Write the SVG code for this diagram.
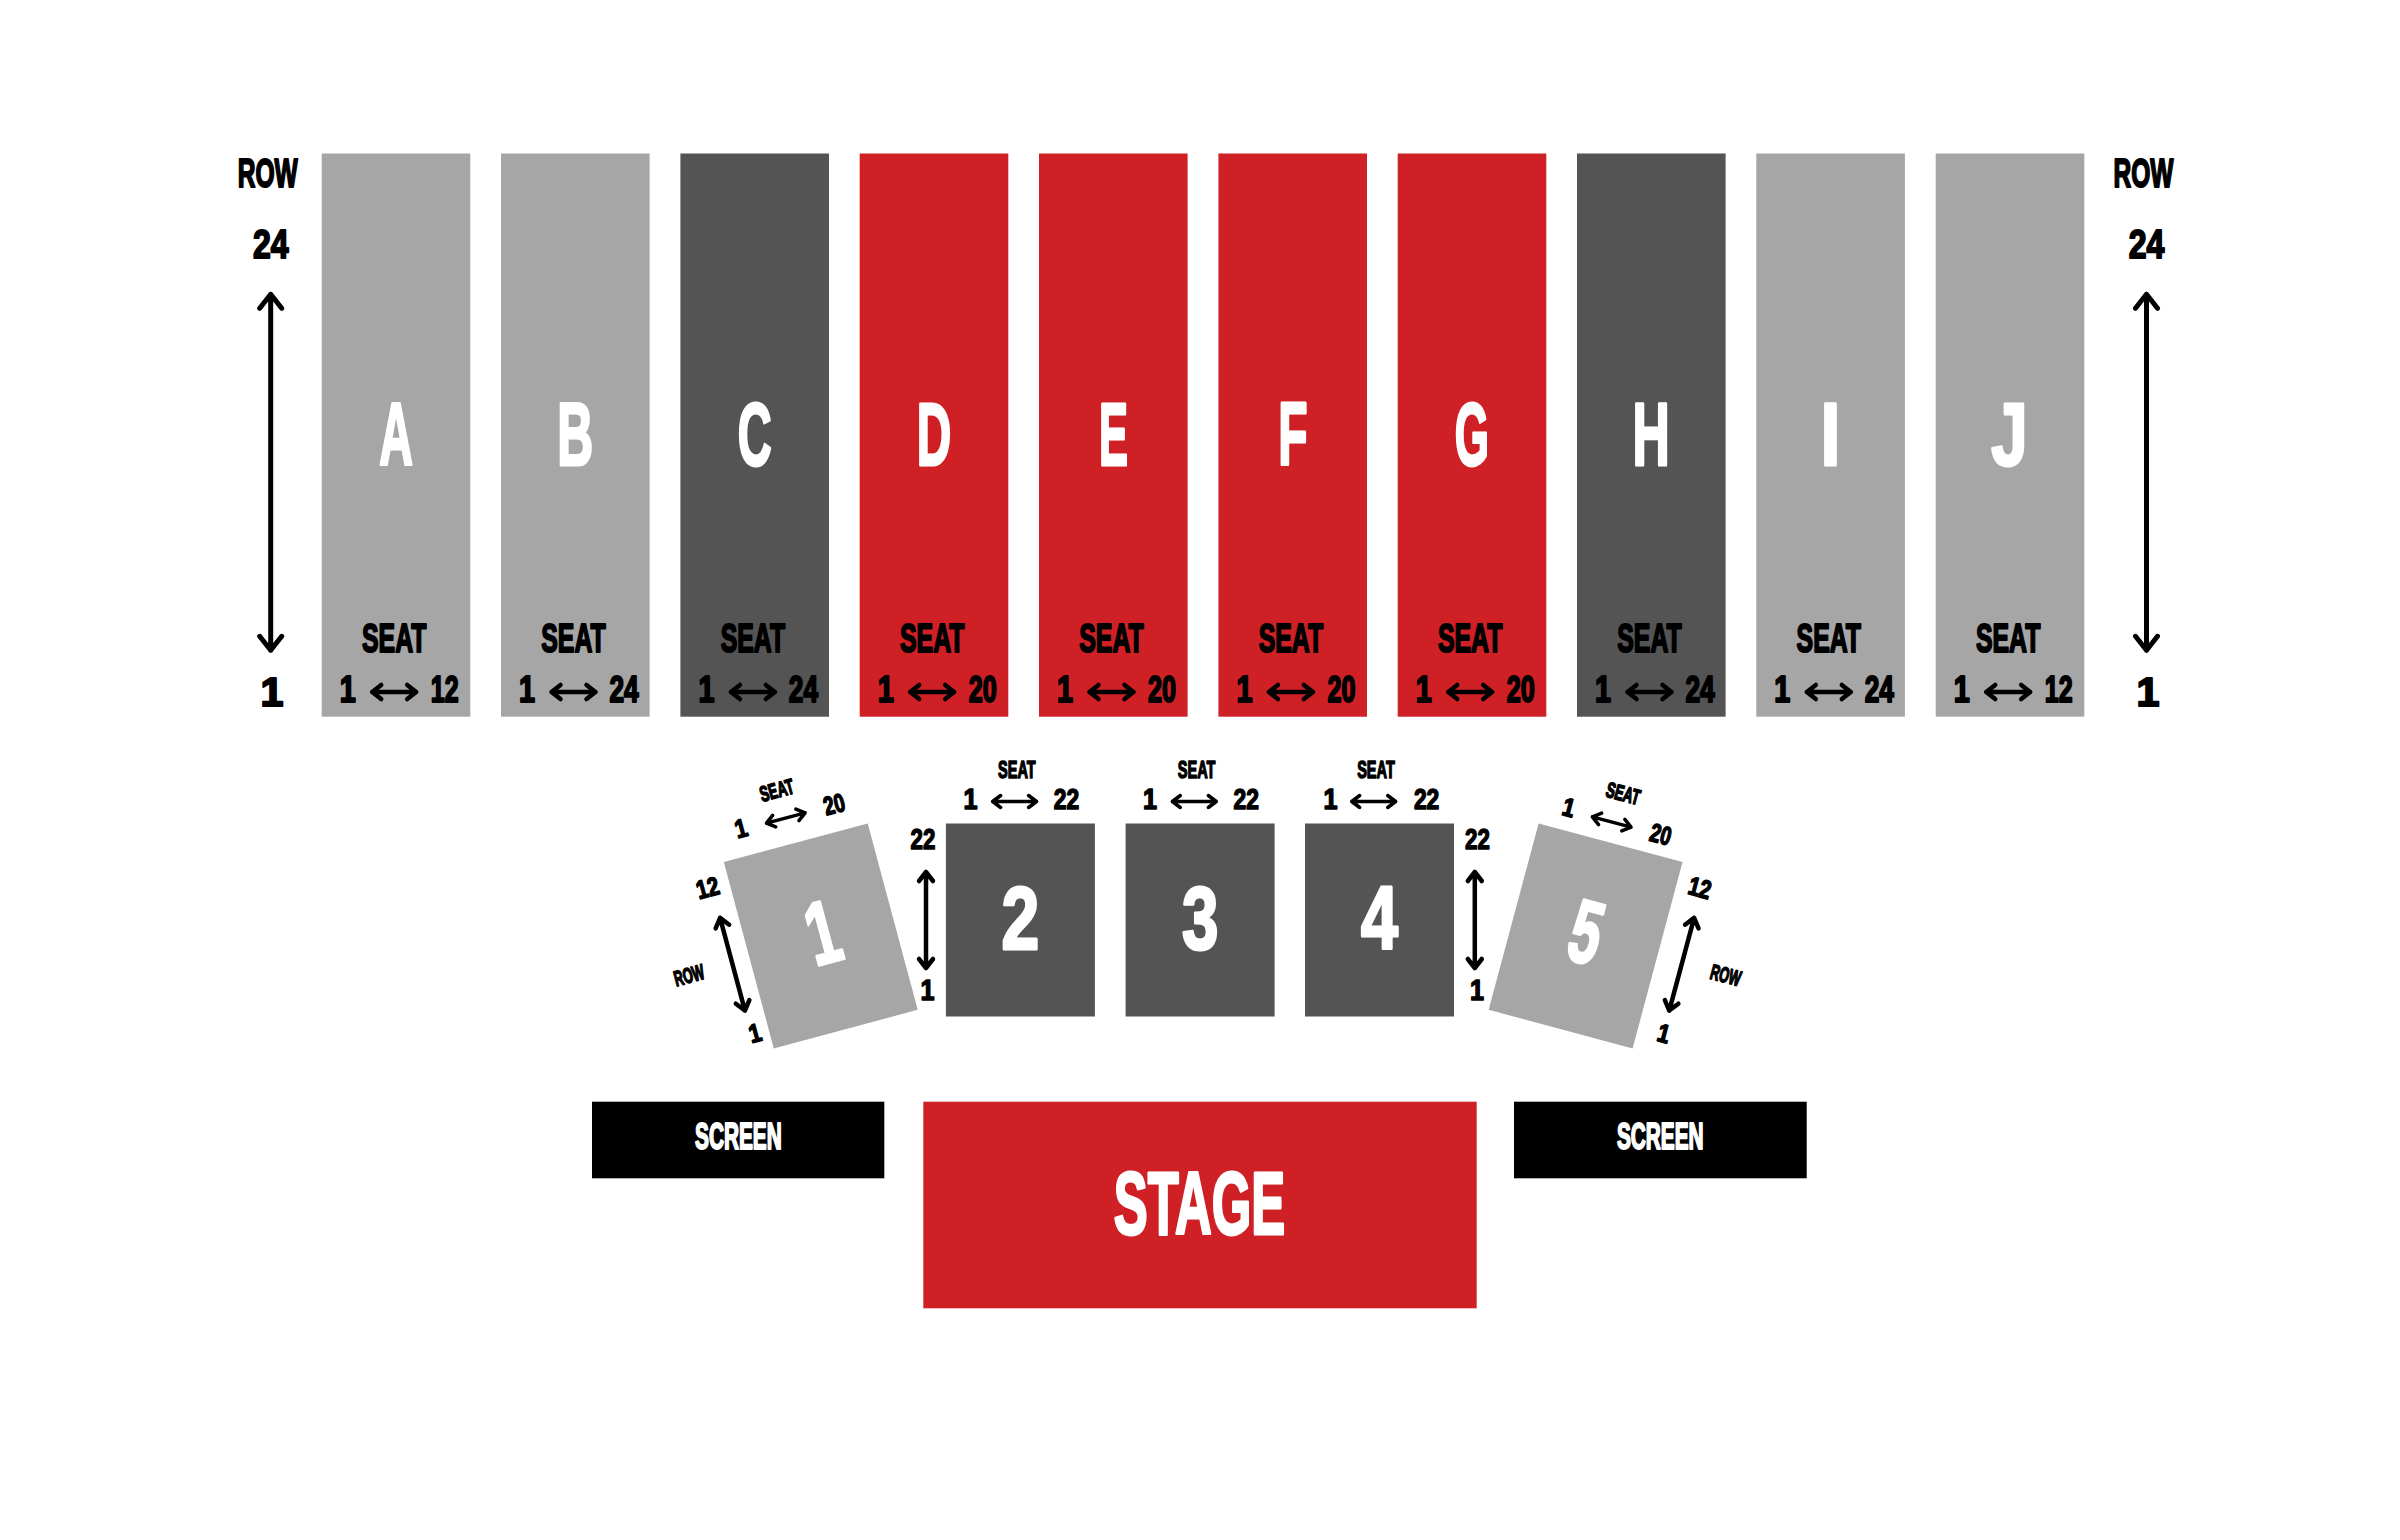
<svg xmlns="http://www.w3.org/2000/svg" xmlns:xlink="http://www.w3.org/1999/xlink" width="2400" height="1540" viewBox="0 0 2400 1540">
<style>
.bg{fill:#ffffff}
.lt{fill:#a6a6a6}
.dk{fill:#545454}
.rd{fill:#cf2026}
.bk{fill:#000000}
.t{font-family:"Liberation Sans",Arial,Helvetica,sans-serif;font-weight:700;text-anchor:middle;fill:#000;stroke:#000;stroke-width:2;stroke-linejoin:round}
.w{fill:#fff;stroke:#fff}
.s3{stroke-width:3}
.s1{stroke-width:1.5}
.big{font-size:89px}
.lab{font-size:41.3px}
.seat{font-size:40.5px}
.num{font-size:36.3px}
.sseat{font-size:24.4px}
.snum{font-size:28.6px}
.side{font-size:30px}
.rsm{font-size:21.6px}
.rnum{font-size:25.8px}
.scr{font-size:36.3px}
.arr{fill:none;stroke:#000;stroke-linecap:round;stroke-linejoin:round}
.a5{stroke-width:5}
.a4{stroke-width:4.5}
.a35{stroke-width:3.5}
</style>
<defs>
<path id="vBig" d="M0,-178 V178 M-11,-164 L0,-178 L11,-164 M-11,164 L0,178 L11,164"/>
<path id="hTop" d="M-22,0 H22 M-13,-7 L-22,0 L-13,7 M13,-7 L22,0 L13,7"/>
<path id="hSm" d="M-22,0 H22 M-14,-6 L-22,0 L-14,6 M14,-6 L22,0 L14,6"/>
<path id="hRot" d="M-20,0 H20 M-12,-6 L-20,0 L-12,6 M12,-6 L20,0 L12,6"/>
<path id="vSm" d="M0,-48 V48 M-7,-39 L0,-48 L7,-39 M-7,39 L0,48 L7,39"/>
</defs>
<rect class="bg" x="0" y="0" width="2400" height="1540"/>

<g id="row-scale-left">
<text class="t lab" x="267.8" y="187" textLength="60" lengthAdjust="spacingAndGlyphs">ROW</text>
<text class="t lab" x="270.8" y="258" textLength="35.6" lengthAdjust="spacingAndGlyphs">24</text>
<text class="t lab" x="272" y="705.5" font-size="39">1</text>
</g>
<g id="row-scale-right">
<text class="t lab" x="2143.5" y="187" textLength="60" lengthAdjust="spacingAndGlyphs">ROW</text>
<text class="t lab" x="2146.5" y="258" textLength="35.6" lengthAdjust="spacingAndGlyphs">24</text>
<text class="t lab" x="2148" y="705.5" font-size="39">1</text>
</g>

<g id="section-A">
<rect class="lt" x="321.7" y="153.5" width="148.6" height="563.2"/>
<text class="t w s3 big" x="396" y="464.5" textLength="33.7" lengthAdjust="spacingAndGlyphs">A</text>
<text class="t seat" x="394.2" y="652" textLength="64.5" lengthAdjust="spacingAndGlyphs">SEAT</text>
<text class="t num" x="347.7" y="702.3" textLength="16" lengthAdjust="spacingAndGlyphs">1</text>
<text class="t num" x="444.7" y="702.3" textLength="27.8" lengthAdjust="spacingAndGlyphs">12</text>
</g>
<g id="section-B">
<rect class="lt" x="501" y="153.5" width="148.6" height="563.2"/>
<text class="t w s3 big" x="575.3" y="464.5" textLength="36" lengthAdjust="spacingAndGlyphs">B</text>
<text class="t seat" x="573.5" y="652" textLength="64.5" lengthAdjust="spacingAndGlyphs">SEAT</text>
<text class="t num" x="527" y="702.3" textLength="16" lengthAdjust="spacingAndGlyphs">1</text>
<text class="t num" x="624" y="702.3" textLength="29.2" lengthAdjust="spacingAndGlyphs">24</text>
</g>
<g id="section-C">
<rect class="dk" x="680.4" y="153.5" width="148.6" height="563.2"/>
<text class="t w s3 big" x="754.7" y="464.5" textLength="33.9" lengthAdjust="spacingAndGlyphs">C</text>
<text class="t seat" x="752.9" y="652" textLength="64.5" lengthAdjust="spacingAndGlyphs">SEAT</text>
<text class="t num" x="706.4" y="702.3" textLength="16" lengthAdjust="spacingAndGlyphs">1</text>
<text class="t num" x="803.4" y="702.3" textLength="29.2" lengthAdjust="spacingAndGlyphs">24</text>
</g>
<g id="section-D">
<rect class="rd" x="859.7" y="153.5" width="148.6" height="563.2"/>
<text class="t w s3 big" x="934" y="464.5" textLength="34.5" lengthAdjust="spacingAndGlyphs">D</text>
<text class="t seat" x="932.2" y="652" textLength="64.5" lengthAdjust="spacingAndGlyphs">SEAT</text>
<text class="t num" x="885.7" y="702.3" textLength="16" lengthAdjust="spacingAndGlyphs">1</text>
<text class="t num" x="982.7" y="702.3" textLength="28" lengthAdjust="spacingAndGlyphs">20</text>
</g>
<g id="section-E">
<rect class="rd" x="1039" y="153.5" width="148.6" height="563.2"/>
<text class="t w s3 big" x="1113.5" y="464.5" textLength="29" lengthAdjust="spacingAndGlyphs">E</text>
<text class="t seat" x="1111.5" y="652" textLength="64.5" lengthAdjust="spacingAndGlyphs">SEAT</text>
<text class="t num" x="1065" y="702.3" textLength="16" lengthAdjust="spacingAndGlyphs">1</text>
<text class="t num" x="1162" y="702.3" textLength="28" lengthAdjust="spacingAndGlyphs">20</text>
</g>
<g id="section-F">
<rect class="rd" x="1218.4" y="153.5" width="148.6" height="563.2"/>
<text class="t w s3 big" x="1293" y="464.5" textLength="29.3" lengthAdjust="spacingAndGlyphs">F</text>
<text class="t seat" x="1290.9" y="652" textLength="64.5" lengthAdjust="spacingAndGlyphs">SEAT</text>
<text class="t num" x="1244.4" y="702.3" textLength="16" lengthAdjust="spacingAndGlyphs">1</text>
<text class="t num" x="1341.4" y="702.3" textLength="28" lengthAdjust="spacingAndGlyphs">20</text>
</g>
<g id="section-G">
<rect class="rd" x="1397.7" y="153.5" width="148.6" height="563.2"/>
<text class="t w s3 big" x="1471.8" y="464.5" textLength="34.2" lengthAdjust="spacingAndGlyphs">G</text>
<text class="t seat" x="1470.2" y="652" textLength="64.5" lengthAdjust="spacingAndGlyphs">SEAT</text>
<text class="t num" x="1423.7" y="702.3" textLength="16" lengthAdjust="spacingAndGlyphs">1</text>
<text class="t num" x="1520.7" y="702.3" textLength="28" lengthAdjust="spacingAndGlyphs">20</text>
</g>
<g id="section-H">
<rect class="dk" x="1577" y="153.5" width="148.6" height="563.2"/>
<text class="t w s3 big" x="1651.2" y="464.5" textLength="37.2" lengthAdjust="spacingAndGlyphs">H</text>
<text class="t seat" x="1649.5" y="652" textLength="64.5" lengthAdjust="spacingAndGlyphs">SEAT</text>
<text class="t num" x="1603" y="702.3" textLength="16" lengthAdjust="spacingAndGlyphs">1</text>
<text class="t num" x="1700" y="702.3" textLength="29.2" lengthAdjust="spacingAndGlyphs">24</text>
</g>
<g id="section-I">
<rect class="lt" x="1756.3" y="153.5" width="148.6" height="563.2"/>
<text class="t w s3 big" x="1830.5" y="464.5" textLength="19.9" lengthAdjust="spacingAndGlyphs">I</text>
<text class="t seat" x="1828.8" y="652" textLength="64.5" lengthAdjust="spacingAndGlyphs">SEAT</text>
<text class="t num" x="1782.3" y="702.3" textLength="16" lengthAdjust="spacingAndGlyphs">1</text>
<text class="t num" x="1879.3" y="702.3" textLength="29.2" lengthAdjust="spacingAndGlyphs">24</text>
</g>
<g id="section-J">
<rect class="lt" x="1935.7" y="153.5" width="148.6" height="563.2"/>
<text class="t w s3 big" x="2009.5" y="464.5" textLength="36.3" lengthAdjust="spacingAndGlyphs">J</text>
<text class="t seat" x="2008.2" y="652" textLength="64.5" lengthAdjust="spacingAndGlyphs">SEAT</text>
<text class="t num" x="1961.7" y="702.3" textLength="16" lengthAdjust="spacingAndGlyphs">1</text>
<text class="t num" x="2058.7" y="702.3" textLength="27.8" lengthAdjust="spacingAndGlyphs">12</text>
</g>

<g id="block-1">
<rect class="lt" x="-74.5" y="-96.5" width="149" height="193" transform="translate(820.75,935.9) rotate(-15)"/>
<text class="t w s3 big" x="1.5" y="31.9" textLength="32" lengthAdjust="spacingAndGlyphs" transform="translate(821,931.7) rotate(-15)">1</text>
<text class="t s1 rsm" x="0" y="7.7" textLength="34.5" lengthAdjust="spacingAndGlyphs" transform="translate(776.7,790) rotate(-15)">SEAT</text>
<text class="t s1 rnum" x="1" y="9.2" textLength="12" lengthAdjust="spacingAndGlyphs" transform="translate(740,828.3) rotate(-15)">1</text>
<text class="t s1 rnum" x="0" y="9.2" textLength="21" lengthAdjust="spacingAndGlyphs" transform="translate(834,804) rotate(-15)">20</text>
<text class="t s1 rnum" x="0" y="9.2" textLength="22.6" lengthAdjust="spacingAndGlyphs" transform="translate(707.5,887.5) rotate(-15)">12</text>
<text class="t s1 rsm" x="0" y="7.7" textLength="30.7" lengthAdjust="spacingAndGlyphs" transform="translate(689,975) rotate(-15)">ROW</text>
<text class="t s1 rnum" x="1" y="9.2" textLength="12" lengthAdjust="spacingAndGlyphs" transform="translate(754,1033) rotate(-15)">1</text>
</g>
<g id="block-2">
<rect class="dk" x="945.9" y="823.5" width="149" height="193"/>
<text class="t w s3 big" x="1020.4" y="949.2" textLength="37.7" lengthAdjust="spacingAndGlyphs">2</text>
<text class="t s1 sseat" x="1016.9" y="777.5" textLength="37.6" lengthAdjust="spacingAndGlyphs">SEAT</text>
<text class="t s1 snum" x="970.4" y="809.2" textLength="14" lengthAdjust="spacingAndGlyphs">1</text>
<text class="t s1 snum" x="1066.5" y="809.2" textLength="25.4" lengthAdjust="spacingAndGlyphs">22</text>
<text class="t s1 side" x="923" y="849.2" textLength="24.8" lengthAdjust="spacingAndGlyphs">22</text>
<text class="t s1 side" x="927.5" y="1000" textLength="14" lengthAdjust="spacingAndGlyphs">1</text>
</g>
<g id="block-3">
<rect class="dk" x="1125.6" y="823.5" width="149" height="193"/>
<text class="t w s3 big" x="1200.1" y="949.2" textLength="36.4" lengthAdjust="spacingAndGlyphs">3</text>
<text class="t s1 sseat" x="1196.6" y="777.5" textLength="37.6" lengthAdjust="spacingAndGlyphs">SEAT</text>
<text class="t s1 snum" x="1150.1" y="809.2" textLength="14" lengthAdjust="spacingAndGlyphs">1</text>
<text class="t s1 snum" x="1246.2" y="809.2" textLength="25.4" lengthAdjust="spacingAndGlyphs">22</text>
</g>
<g id="block-4">
<rect class="dk" x="1305" y="823.5" width="149" height="193"/>
<text class="t w s3 big" x="1379.5" y="949.2" textLength="37" lengthAdjust="spacingAndGlyphs">4</text>
<text class="t s1 sseat" x="1376" y="777.5" textLength="37.6" lengthAdjust="spacingAndGlyphs">SEAT</text>
<text class="t s1 snum" x="1330.5" y="809.2" textLength="14" lengthAdjust="spacingAndGlyphs">1</text>
<text class="t s1 snum" x="1426.6" y="809.2" textLength="25.4" lengthAdjust="spacingAndGlyphs">22</text>
<text class="t s1 side" x="1477.5" y="849.2" textLength="24.8" lengthAdjust="spacingAndGlyphs">22</text>
<text class="t s1 side" x="1477" y="1000" textLength="14" lengthAdjust="spacingAndGlyphs">1</text>
</g>
<g id="block-5">
<rect class="lt" x="-74.5" y="-96.5" width="149" height="193" transform="translate(1585.6,935.9) rotate(15)"/>
<text class="t w s3 big" x="0" y="31.9" textLength="30.6" lengthAdjust="spacingAndGlyphs" transform="translate(1586.7,930.8) rotate(15)">5</text>
<text class="t s1 rsm" x="0" y="7.7" textLength="34.5" lengthAdjust="spacingAndGlyphs" transform="translate(1623.3,793.3) rotate(15)">SEAT</text>
<text class="t s1 rnum" x="1" y="9.2" textLength="12" lengthAdjust="spacingAndGlyphs" transform="translate(1568,807) rotate(15)">1</text>
<text class="t s1 rnum" x="0" y="9.2" textLength="21" lengthAdjust="spacingAndGlyphs" transform="translate(1660.8,834) rotate(15)">20</text>
<text class="t s1 rnum" x="0" y="9.2" textLength="22.6" lengthAdjust="spacingAndGlyphs" transform="translate(1700,887.5) rotate(15)">12</text>
<text class="t s1 rsm" x="0" y="7.7" textLength="30.7" lengthAdjust="spacingAndGlyphs" transform="translate(1725.8,975) rotate(15)">ROW</text>
<text class="t s1 rnum" x="1" y="9.2" textLength="12" lengthAdjust="spacingAndGlyphs" transform="translate(1663,1033) rotate(15)">1</text>
</g>

<g id="screen-left">
<rect class="bk" x="592" y="1101.7" width="292.3" height="76.6"/>
<text class="t w scr" x="738.4" y="1149" textLength="86.7" lengthAdjust="spacingAndGlyphs">SCREEN</text>
</g>
<g id="screen-right">
<rect class="bk" x="1514" y="1101.7" width="292.7" height="76.6"/>
<text class="t w scr" x="1660.3" y="1149" textLength="86.7" lengthAdjust="spacingAndGlyphs">SCREEN</text>
</g>
<g id="stage">
<rect class="rd" x="923.3" y="1101.7" width="553.4" height="206.6"/>
<text class="t w s3 big" x="1199.5" y="1233.5" textLength="171.4" lengthAdjust="spacingAndGlyphs">STAGE</text>
</g>

<g id="connectors" class="arr">
<use xlink:href="#vBig" class="a5" x="270.7" y="472.3"/>
<use xlink:href="#vBig" class="a5" x="2146.5" y="472.3"/>
<use xlink:href="#hTop" class="a4" x="394.2" y="692"/>
<use xlink:href="#hTop" class="a4" x="573.5" y="692"/>
<use xlink:href="#hTop" class="a4" x="752.9" y="692"/>
<use xlink:href="#hTop" class="a4" x="932.2" y="692"/>
<use xlink:href="#hTop" class="a4" x="1111.5" y="692"/>
<use xlink:href="#hTop" class="a4" x="1290.9" y="692"/>
<use xlink:href="#hTop" class="a4" x="1470.2" y="692"/>
<use xlink:href="#hTop" class="a4" x="1649.5" y="692"/>
<use xlink:href="#hTop" class="a4" x="1828.8" y="692"/>
<use xlink:href="#hTop" class="a4" x="2008.2" y="692"/>
<use xlink:href="#hSm" class="a35" x="1014.6" y="801.5"/>
<use xlink:href="#hSm" class="a35" x="1194.3" y="801.5"/>
<use xlink:href="#hSm" class="a35" x="1373.7" y="801.5"/>
<use xlink:href="#vSm" class="a4" x="926" y="920"/>
<use xlink:href="#vSm" class="a4" x="1474.8" y="920"/>
<use xlink:href="#vSm" class="a4" transform="translate(732.5,964.2) rotate(-15)"/>
<use xlink:href="#vSm" class="a4" transform="translate(1681.7,964.2) rotate(15)"/>
<use xlink:href="#hRot" class="a35" transform="translate(785.8,818) rotate(-15)"/>
<use xlink:href="#hRot" class="a35" transform="translate(1611.7,822) rotate(15)"/>
</g>
</svg>
